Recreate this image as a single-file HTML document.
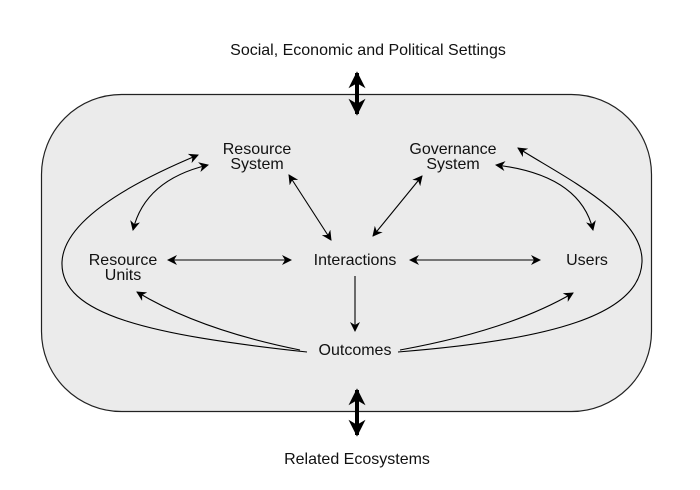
<!DOCTYPE html>
<html><head><style>body{margin:0;background:#fff}svg{display:block}text{font-family:"Liberation Sans",Arial,sans-serif;font-size:16px;fill:#111;text-anchor:middle}</style></head><body>
<svg width="700" height="490" viewBox="0 0 700 490">
<defs>
<marker id="a" viewBox="0 0 10 10" refX="9" refY="5" markerWidth="10" markerHeight="10" markerUnits="userSpaceOnUse" orient="auto-start-reverse"><path d="M0,0 L10,5 L0,10 L3,5 z" fill="#000"/></marker>
<marker id="b" viewBox="0 0 10 10" refX="9" refY="5" markerWidth="17" markerHeight="17" markerUnits="userSpaceOnUse" orient="auto-start-reverse"><path d="M0,0 L10,5 L0,10 L3,5 z" fill="#000"/></marker>
</defs>
<rect x="41.5" y="94.5" width="610" height="317" rx="80" ry="80" fill="#ebebeb" stroke="#222" stroke-width="1.2"/>
<text x="368" y="55">Social, Economic and Political Settings</text>
<text x="357" y="464">Related Ecosystems</text>
<line x1="357" y1="73" x2="357" y2="114" stroke="#000" stroke-width="4" marker-start="url(#b)" marker-end="url(#b)"/>
<line x1="357" y1="390" x2="357" y2="435" stroke="#000" stroke-width="4" marker-start="url(#b)" marker-end="url(#b)"/>
<text x="257" y="154">Resource</text><text x="257" y="169">System</text>
<text x="453" y="154">Governance</text><text x="453" y="169">System</text>
<text x="123" y="265">Resource</text><text x="123" y="280">Units</text>
<text x="355" y="265">Interactions</text>
<text x="587" y="265">Users</text>
<text x="355" y="355">Outcomes</text>
<g fill="none" stroke="#000" stroke-width="1.1">
<line x1="168" y1="260" x2="291" y2="260" marker-start="url(#a)" marker-end="url(#a)"/>
<line x1="410" y1="260" x2="540" y2="260" marker-start="url(#a)" marker-end="url(#a)"/>
<line x1="355" y1="276" x2="355" y2="331" marker-end="url(#a)"/>
<line x1="289" y1="175" x2="331" y2="240" marker-start="url(#a)" marker-end="url(#a)"/>
<line x1="422" y1="176" x2="373" y2="236" marker-start="url(#a)" marker-end="url(#a)"/>
<path d="M208,165 Q145,180 133,230" marker-start="url(#a)" marker-end="url(#a)"/>
<path d="M496,165 Q580,175 593,230" marker-start="url(#a)" marker-end="url(#a)"/>
<path d="M307,352 C150,335 60,315 62,262 C64,215 150,175 198,155" marker-end="url(#a)"/>
<path d="M300,350 Q200,330 137,292" marker-end="url(#a)"/>
<path d="M398,352 C550,340 640,315 642,262 C644,215 560,175 518,148" marker-end="url(#a)"/>
<path d="M400,350 Q510,330 573,293" marker-end="url(#a)"/>
</g>
</svg>
</body></html>
